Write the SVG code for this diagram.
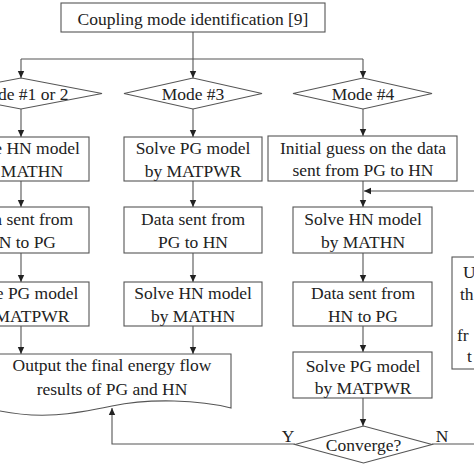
<svg xmlns="http://www.w3.org/2000/svg" width="474" height="474" viewBox="0 0 474 474">
<style>
.s{fill:#fff;stroke:#555;stroke-width:1.1}
.c{fill:none;stroke:#555;stroke-width:1.1}
text{font-family:"Liberation Serif","Times New Roman",serif;font-size:17.5px;fill:#222;text-anchor:middle}
.l{text-anchor:start}
</style>
<defs>
<marker id="a" markerWidth="8" markerHeight="8" refX="7" refY="4" orient="auto" markerUnits="userSpaceOnUse">
<path d="M0,0.8 L7,4 L0,7.2 Z" fill="#222"/>
</marker>
</defs>
<rect width="474" height="474" fill="#fff"/>
<g id="connectors">
<path class="c" d="M193,32 V59"/>
<path class="c" d="M21,59 H363"/>
<path class="c" d="M21,59 V78" marker-end="url(#a)"/>
<path class="c" d="M193,59 V78" marker-end="url(#a)"/>
<path class="c" d="M363,59 V78" marker-end="url(#a)"/>
<path class="c" d="M21,109 V137" marker-end="url(#a)"/>
<path class="c" d="M193,109 V137" marker-end="url(#a)"/>
<path class="c" d="M363,109 V136" marker-end="url(#a)"/>
<path class="c" d="M21,181 V207" marker-end="url(#a)"/>
<path class="c" d="M193,181 V207" marker-end="url(#a)"/>
<path class="c" d="M363,181 V207" marker-end="url(#a)"/>
<path class="c" d="M480,191 H364" marker-end="url(#a)"/>
<path class="c" d="M21,253 V282" marker-end="url(#a)"/>
<path class="c" d="M193,253 V282" marker-end="url(#a)"/>
<path class="c" d="M363,253 V282" marker-end="url(#a)"/>
<path class="c" d="M21,326 V354" marker-end="url(#a)"/>
<path class="c" d="M193,326 V354" marker-end="url(#a)"/>
<path class="c" d="M363,326 V352" marker-end="url(#a)"/>
<path class="c" d="M363,398 V426" marker-end="url(#a)"/>
<path class="c" d="M295,444 H112 V408" marker-end="url(#a)"/>
<path class="c" d="M432,444 H480"/>
<text x="288" y="442">Y</text>
<text x="442" y="442">N</text>
</g>
<g id="top">
<rect class="s" x="61" y="3" width="264" height="29"/>
<text x="193" y="25">Coupling mode identification [9]</text>
</g>
<g id="mode12">
<polygon class="s" points="-60,93.5 21,78 102,93.5 21,109"/>
<text x="21" y="100">Mode #1 or 2</text>
</g>
<g id="mode3">
<polygon class="s" points="124,93.5 193,78 262,93.5 193,109"/>
<text x="193" y="100">Mode #3</text>
</g>
<g id="mode4">
<polygon class="s" points="293,93.5 363,78 432,93.5 363,109"/>
<text x="363" y="100">Mode #4</text>
</g>
<g id="l1">
<rect class="s" x="-48" y="137" width="137" height="44"/>
<text x="21" y="154">Solve HN model</text>
<text x="21" y="177">by MATHN</text>
</g>
<g id="l2">
<rect class="s" x="-48" y="207" width="137" height="46"/>
<text x="21" y="225">Data sent from</text>
<text x="21" y="248">HN to PG</text>
</g>
<g id="l3">
<rect class="s" x="-48" y="282" width="137" height="44"/>
<text x="21" y="299">Solve PG model</text>
<text x="21" y="322">by MATPWR</text>
</g>
<g id="m1">
<rect class="s" x="124" y="137" width="138" height="44"/>
<text x="193" y="154">Solve PG model</text>
<text x="193" y="177">by MATPWR</text>
</g>
<g id="m2">
<rect class="s" x="124" y="207" width="138" height="46"/>
<text x="193" y="225">Data sent from</text>
<text x="193" y="248">PG to HN</text>
</g>
<g id="m3">
<rect class="s" x="124" y="282" width="138" height="44"/>
<text x="193" y="299">Solve HN model</text>
<text x="193" y="322">by MATHN</text>
</g>
<g id="output">
<path class="s" d="M-5,354 H231 V408 C200,400 150,398 112,406 S40,420 -5,410 Z"/>
<text x="112" y="371">Output the final energy flow</text>
<text x="112" y="395">results of PG and HN</text>
</g>
<g id="r1">
<rect class="s" x="268" y="136" width="189" height="45"/>
<text x="363" y="154">Initial guess on the data</text>
<text x="363" y="176">sent from PG to HN</text>
</g>
<g id="r2">
<rect class="s" x="293" y="207" width="139" height="46"/>
<text x="363" y="225">Solve HN model</text>
<text x="363" y="248">by MATHN</text>
</g>
<g id="r3">
<rect class="s" x="293" y="282" width="139" height="44"/>
<text x="363" y="299">Data sent from</text>
<text x="363" y="322">HN to PG</text>
</g>
<g id="r4">
<rect class="s" x="293" y="352" width="139" height="46"/>
<text x="363" y="372">Solve PG model</text>
<text x="363" y="394">by MATPWR</text>
</g>
<g id="converge">
<polygon class="s" points="295,444.5 363.5,426 432,444.5 363.5,463"/>
<text x="363.5" y="451">Converge?</text>
</g>
<g id="side">
<rect class="s" x="452" y="257" width="40" height="112"/>
<text class="l" x="463" y="278">U</text>
<text class="l" x="460" y="300">th</text>
<text class="l" x="457" y="341">fr</text>
<text class="l" x="467" y="362">t</text>
</g>
</svg>
